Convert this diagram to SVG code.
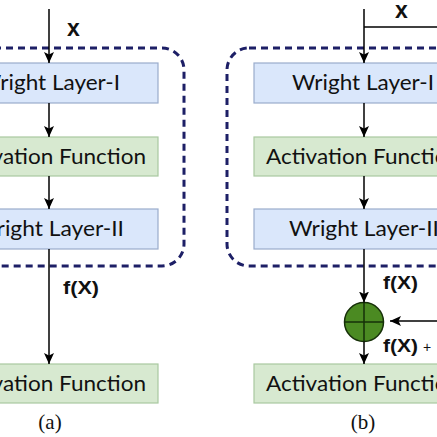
<svg xmlns="http://www.w3.org/2000/svg" width="437" height="437" viewBox="0 0 437 437">
<style>
.blue{fill:#dae7fb;stroke:#9aaccc;stroke-width:1.2}
.green{fill:#d7e9d0;stroke:#a9c9a0;stroke-width:1.2}
.lbl{font-family:"Lato","Liberation Sans",sans-serif;font-size:21px;fill:#111;text-anchor:middle}
.var{font-family:"Liberation Sans",sans-serif;font-weight:bold;font-size:19px;fill:#111}
.big{font-size:23px}
.cap{font-family:"Liberation Serif",serif;font-size:21px;fill:#111;text-anchor:middle}
.dash{fill:none;stroke:#1d1f66;stroke-width:3;stroke-dasharray:7 5}
.ln{stroke:#000;stroke-width:1.5;fill:none}
</style>
<defs>
<marker id="ah" markerUnits="userSpaceOnUse" markerWidth="12" markerHeight="11" refX="11" refY="5" orient="auto">
<path d="M0,0 L11,5 L0,10 L2.5,5 Z" fill="#000"/>
</marker>
</defs>
<g id="container-a"><rect class="dash" x="-40" y="48" width="224" height="218" rx="22"/></g>
<g id="container-b"><rect class="dash" x="227" y="48" width="250" height="218" rx="22"/></g>
<g id="a-wl1"><rect class="blue" x="-60" y="63" width="218" height="40"/><text class="lbl" x="49" y="90" textLength="142" lengthAdjust="spacingAndGlyphs">Wright Layer-I</text></g>
<g id="a-af1"><rect class="green" x="-60" y="137" width="218" height="39"/><text class="lbl" x="49" y="163.5" textLength="194" lengthAdjust="spacingAndGlyphs">Activation Function</text></g>
<g id="a-wl2"><rect class="blue" x="-60" y="209" width="218" height="40"/><text class="lbl" x="49" y="236" textLength="150" lengthAdjust="spacingAndGlyphs">Wright Layer-II</text></g>
<g id="a-af2"><rect class="green" x="-60" y="364" width="218" height="39"/><text class="lbl" x="49" y="390.5" textLength="194" lengthAdjust="spacingAndGlyphs">Activation Function</text></g>
<g id="b-wl1"><rect class="blue" x="254" y="63" width="218" height="40"/><text class="lbl" x="363" y="90" textLength="142" lengthAdjust="spacingAndGlyphs">Wright Layer-I</text></g>
<g id="b-af1"><rect class="green" x="254" y="137" width="218" height="39"/><text class="lbl" x="363" y="163.5" textLength="194" lengthAdjust="spacingAndGlyphs">Activation Function</text></g>
<g id="b-wl2"><rect class="blue" x="254" y="209" width="218" height="40"/><text class="lbl" x="364" y="236" textLength="150" lengthAdjust="spacingAndGlyphs">Wright Layer-II</text></g>
<g id="b-af2"><rect class="green" x="254" y="364" width="218" height="39"/><text class="lbl" x="363" y="390.5" textLength="194" lengthAdjust="spacingAndGlyphs">Activation Function</text></g>
<g id="b-sum">
<circle cx="364" cy="322" r="19.5" fill="#4b8a22" stroke="#163008" stroke-width="1.5"/>
<path d="M344.5,322 H383.5 M364,302.5 V341.5" stroke="#163008" stroke-width="1.5"/>
</g>
<g id="connectors">
<path class="ln" d="M49,9 V63" marker-end="url(#ah)"/>
<path class="ln" d="M49,103 V137" marker-end="url(#ah)"/>
<path class="ln" d="M49,176 V209" marker-end="url(#ah)"/>
<path class="ln" d="M49,249 V364" marker-end="url(#ah)"/>
<path class="ln" d="M364,9 V63" marker-end="url(#ah)"/>
<path class="ln" d="M364,27 H437"/>
<path class="ln" d="M364,103 V137" marker-end="url(#ah)"/>
<path class="ln" d="M364,176 V209" marker-end="url(#ah)"/>
<path class="ln" d="M364,249 V302.5" marker-end="url(#ah)"/>
<path class="ln" d="M364,341.5 V364" marker-end="url(#ah)"/>
<path class="ln" d="M437,321 H390" marker-end="url(#ah)"/>
</g>
<g id="labels">
<text class="var big" x="67" y="36">x</text>
<text class="var big" x="395" y="18">x</text>
<text class="var" x="63" y="294" textLength="36" lengthAdjust="spacingAndGlyphs">f(X)</text>
<text class="var" x="383" y="289" textLength="35" lengthAdjust="spacingAndGlyphs">f(X)</text>
<text class="var" x="383" y="352" textLength="35" lengthAdjust="spacingAndGlyphs">f(X)</text>
<text x="423" y="352" font-family="Liberation Sans,sans-serif" font-size="14" fill="#111">+</text>
<text class="cap" x="50" y="429">(a)</text>
<text class="cap" x="363" y="429">(b)</text>
</g>
</svg>
